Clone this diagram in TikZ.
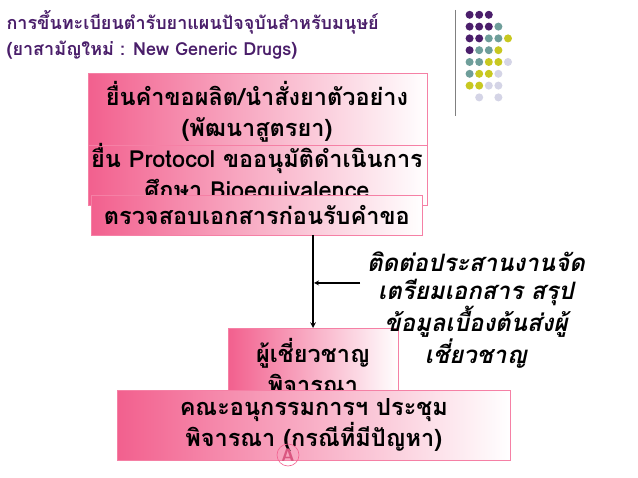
\documentclass[tikz,border=0pt]{standalone}
\usepackage{fontspec}
\newfontfamily\thfont[Script=Thai]{Loma}
\definecolor{ttl}{HTML}{4A1E6A}
\definecolor{pk}{HTML}{F2608E}
\definecolor{dP}{HTML}{4B1E6B}
\definecolor{dT}{HTML}{6E9E9A}
\definecolor{dY}{HTML}{C8C820}
\definecolor{dL}{HTML}{D4D4E6}
\begin{document}
\begin{tikzpicture}[x=1pt,y=-1pt,
  pbox/.style={draw=pk!80,line width=0.6pt,left color=pk,right color=white,shading angle=90},
  btxt/.style={font=\thfont\bfseries\fontsize{23.5}{31}\selectfont,align=center},
  itxt/.style={font=\thfont\bfseries\itshape\fontsize{24}{28}\selectfont,align=center}]
\useasboundingbox[fill=white] (0,0) rectangle (638,478);
\node[anchor=west,text=ttl,font=\thfont\bfseries\fontsize{18}{20}\selectfont] (t1) at (3,22) {การขึ้นทะเบียนตำรับยาแผนปัจจุบันสำหรับมนุษย์};
\node[anchor=west,text=ttl,font=\thfont\bfseries\fontsize{18}{20}\selectfont] (t2) at (3,50) {(ยาสามัญใหม่ : New Generic Drugs)};
% dots
\foreach \r/\cols in {1/{1/dP,2/dP,3/dP},2/{1/dP,2/dP,3/dP,4/dT},3/{1/dP,2/dP,3/dT,4/dT,5/dY},4/{1/dP,2/dT,3/dT,4/dY},5/{1/dT,2/dT,3/dY,4/dY,5/dL},6/{1/dT,2/dY,3/dY,4/dL},7/{1/dY,2/dY,3/dL,4/dL},8/{2/dL,4/dL}}{
  \foreach \c/\col in \cols { \fill[\col] ({460+\c*9.6},{3+\r*11.8}) circle (4); }
}
\draw[gray,line width=0.6pt] (455,10) -- (455,116);
% boxes
\node[pbox,minimum width=339,minimum height=72,anchor=north west] (b1) at (88,73) {};
\node[btxt] (b1t) at (257,112) {ยื่นคำขอผลิต/นำสั่งยาตัวอย่าง\\(พัฒนาสูตรยา)};
\node[pbox,minimum width=339,minimum height=60,anchor=north west] (b2) at (88,145) {};
\node[btxt] (b2t) at (257,173) {ยื่น Protocol ขออนุมัติดำเนินการ\\ศึกษา Bioequivalence};
\node[pbox,minimum width=331,minimum height=40,anchor=north west] (b3) at (91,195) {};
\node[btxt] (b3t) at (b3) {ตรวจสอบเอกสารก่อนรับคำขอ};
\node[pbox,minimum width=170,minimum height=62,anchor=north west] (b4) at (228,328) {};
\coordinate (top) at (313,235);
\draw[line width=1.5pt,-stealth] (top) -- (b4.north -| top);
\coordinate (hs) at (360,283);
\draw[line width=1.2pt,-stealth] (hs) -- (314,283);
\node[itxt] (rt) at (476,310) {ติดต่อประสานงานจัด\\เตรียมเอกสาร สรุป\\ข้อมูลเบื้องต้นส่งผู้\\เชี่ยวชาญ};
\node[btxt] (b4t) at (313,366) {ผู้เชี่ยวชาญ\\พิจารณา};
\node[pbox,minimum width=393,minimum height=70,anchor=north west] (b5) at (117,390) {};
\node[btxt] (b5t) at (b5) {คณะอนุกรรมการฯ ประชุม\\พิจารณา (กรณีที่มีปัญหา)};
\node[circle,draw=pk,line width=0.6pt,minimum size=22,inner sep=0,text=pk!90!black,font=\sffamily\bfseries\fontsize{18}{18}\selectfont] (A) at (288,455) {A};
\end{tikzpicture}
\end{document}
